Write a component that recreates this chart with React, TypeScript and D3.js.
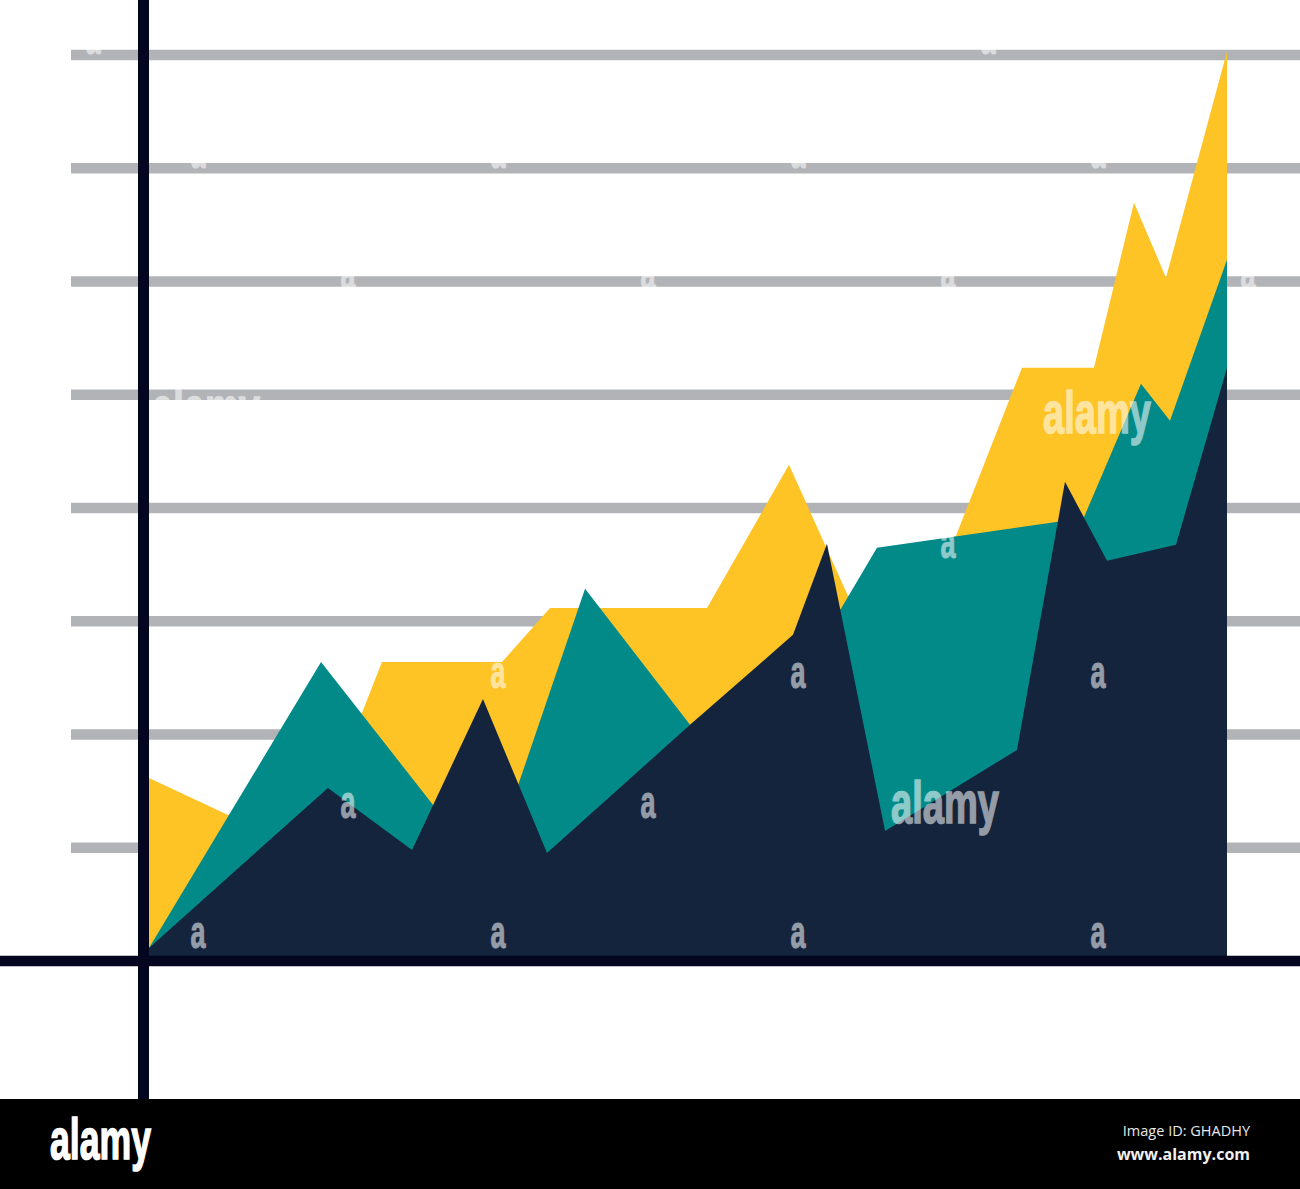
import { useEffect, useRef } from "react";
import * as d3 from "d3";

const gridTicks = [1, 2, 3, 4, 5, 6, 7, 8];

const yellowX = [0, 7.33, 19.76, 21.61, 32.75, 37.2, 51.76, 59.37, 64.84, 74.86, 80.98, 87.66, 91.37, 94.34, 100];
const yellowY = [1.617, 1.29, 2.191, 2.641, 2.641, 3.118, 3.118, 4.382, 3.224, 3.754, 5.239, 5.239, 6.696, 6.034, 8.03];

const tealX = [0, 15.96, 26.35, 27.92, 33.49, 40.45, 50.19, 64.19, 67.53, 84.32, 86.55, 92.02, 94.71, 100];
const tealY = [0.115, 2.641, 1.378, 1.193, 1.343, 3.286, 2.085, 3.11, 3.648, 3.878, 3.878, 5.097, 4.77, 6.193];

const navyX = [0, 16.6, 24.4, 30.98, 36.92, 50.19, 59.74, 62.89, 68.28, 80.52, 84.97, 88.87, 95.27, 100];
const navyY = [0.115, 1.528, 0.981, 2.314, 0.954, 2.085, 2.88, 3.684, 1.148, 1.864, 4.231, 3.534, 3.675, 5.239];

const stampSmall: [number, number][] = [
  [198, 948], [498, 948], [798, 948], [1098, 948],
  [348, 818], [648, 818],
  [498, 688], [798, 688], [1098, 688],
  [948, 558],
  [198, 168], [498, 168], [798, 168], [1098, 168],
  [348, 289], [648, 289], [948, 289], [1248, 289],
  [93, 54], [988, 54],
];
const stampLarge: [number, number][] = [
  [1043, 433],
  [891, 823],
  [152, 428],
];

const width = 1300;
const height = 1189;
const barTop = 1099;
const axisColor = "#03061e";
const narrow = "'Liberation Sans Narrow', 'Liberation Sans', sans-serif";

type Pt = [number, number];
const zip = (xs: number[], ys: number[]): Pt[] => xs.map((x, i) => [x, ys[i]]);

export default function App() {
  const gridRef = useRef<SVGGElement>(null);

  const x = d3.scaleLinear().domain([0, 100]).range([149, 1227]);
  const y = d3.scaleLinear().domain([0, 8]).range([961, 55]);

  const area = d3
    .area<Pt>()
    .x((d) => x(d[0]))
    .y0(y(0))
    .y1((d) => y(d[1]));

  useEffect(() => {
    if (!gridRef.current) return;
    const g = d3.select(gridRef.current);
    g.selectAll("*").remove();
    g.call(
      d3
        .axisLeft(y)
        .tickValues(gridTicks)
        .tickSize(-(width - 71))
        .tickFormat(() => "")
        .offset(0) as any
    );
    g.select(".domain").remove();
    g.selectAll(".tick line").attr("stroke", "#b1b3b6").attr("stroke-width", 10.5);
  }, []);

  return (
    <svg
      width={width}
      height={height}
      style={{ position: "absolute", left: 0, top: 0, display: "block", background: "#fff" }}
    >
      <g ref={gridRef} transform="translate(71,0)" />

      <path d={area(zip(yellowX, yellowY)) ?? ""} fill="#fec325" />
      <path d={area(zip(tealX, tealY)) ?? ""} fill="#028a89" />
      <path d={area(zip(navyX, navyY)) ?? ""} fill="#13243c" />

      <line x1={143.5} x2={143.5} y1={0} y2={barTop} stroke={axisColor} strokeWidth={11} />
      <line x1={0} x2={width} y1={y(0)} y2={y(0)} stroke={axisColor} strokeWidth={10.5} />

      <g fill="#fff" stroke="#fff" fontFamily={narrow} fontWeight={700}>
        {stampSmall.map(([cx, by], i) => (
          <text
            key={i}
            x={cx - 7.5}
            y={by}
            opacity={0.55}
            strokeWidth={1}
            fontSize={46}
            textLength={15}
            lengthAdjust="spacingAndGlyphs"
          >
            a
          </text>
        ))}
        {stampLarge.map(([lx, by], i) => (
          <text
            key={i}
            x={lx}
            y={by}
            opacity={0.55}
            strokeWidth={1.6}
            fontSize={60}
            textLength={108}
            lengthAdjust="spacingAndGlyphs"
          >
            alamy
          </text>
        ))}
      </g>

      <rect x={0} y={barTop} width={width} height={height - barTop} fill="#000" />
      <text
        x={50}
        y={1159}
        fill="#fff"
        stroke="#fff"
        strokeWidth={1.6}
        fontFamily={narrow}
        fontWeight={700}
        fontSize={58}
        textLength={101}
        lengthAdjust="spacingAndGlyphs"
      >
        alamy
      </text>
      <text x={1250} y={1136} textAnchor="end" fill="#e8e8e8" fontFamily="'Open Sans', sans-serif" fontSize={14.5}>
        Image ID: GHADHY
      </text>
      <text
        x={1250}
        y={1160}
        textAnchor="end"
        fill="#f0f0f0"
        fontFamily="'Open Sans', sans-serif"
        fontWeight={700}
        fontSize={16}
      >
        www.alamy.com
      </text>
    </svg>
  );
}
